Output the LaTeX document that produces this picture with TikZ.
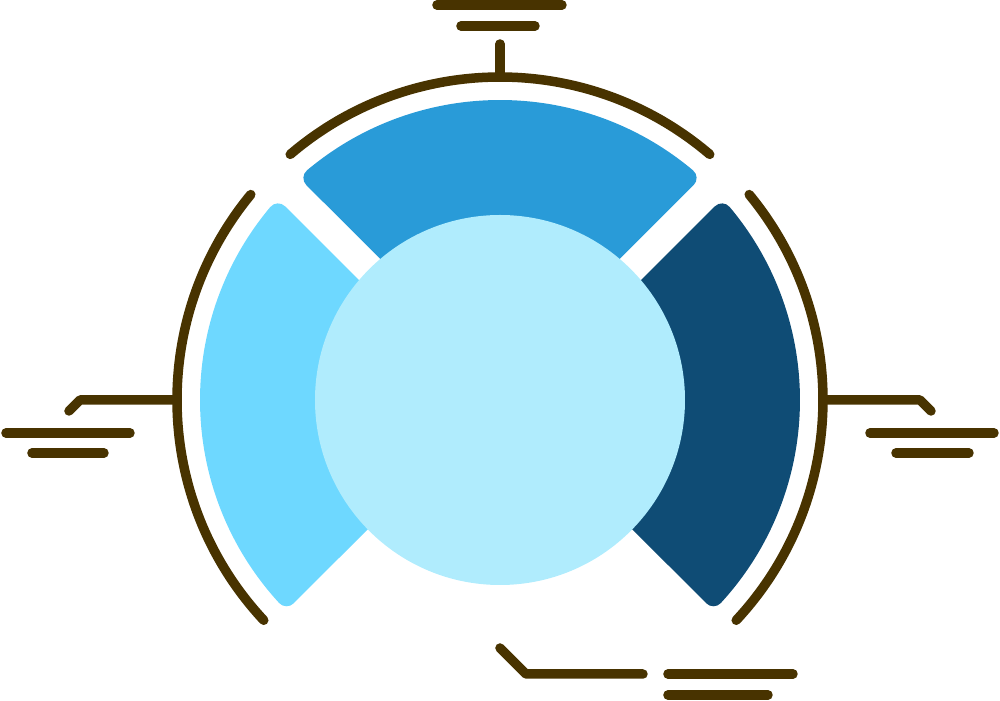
\documentclass[tikz,border=0pt]{standalone}
\usepackage{tikz}
\usepackage{xcolor}
\definecolor{wirebrown}{RGB}{72,51,0}
\definecolor{segtop}{RGB}{41,155,216}
\definecolor{segleft}{RGB}{110,216,255}
\definecolor{segright}{RGB}{15,76,117}
\definecolor{hub}{RGB}{176,236,253}

\begin{document}
\begin{tikzpicture}[x=0.1mm,y=0.1mm]
\tikzstyle{wire}=[draw=wirebrown,line width=0.95mm,line cap=round,line join=round]
\tikzstyle{petal}=[line width=2mm,line join=round]
\useasboundingbox (-500,-301) rectangle (500,400);
\filldraw [petal,fill=segtop,draw=segtop] (0,35.4) -- (49.95:290) arc[start angle=49.95,end angle=130.05,radius=290] -- cycle;
\filldraw [petal,fill=segleft,draw=segleft] (-26.2,-9.2) -- (139.95:290) arc[start angle=139.95,end angle=222.6,radius=290] -- cycle;
\filldraw [petal,fill=segright,draw=segright] (26.2,-9.2) -- (-42.6:290) arc[start angle=-42.6,end angle=40.05,radius=290] -- cycle;
\fill [hub] (0,0) circle[radius=185];
\draw [wire] (49.5:323) arc[start angle=49.5,end angle=130.5,radius=323];
\draw [wire] (140.5:323) arc[start angle=140.5,end angle=223,radius=323];
\draw [wire] (-43:323) arc[start angle=-43,end angle=39.5,radius=323];
\draw [wire] (0,323) -- (0,356);
\draw [wire] (-63,395) -- (62,395);
\draw [wire] (-39,374) -- (35,374);
\draw [wire] (-323,0) -- (-420,0) -- (-431,-11);
\draw [wire] (-494,-33) -- (-370,-33);
\draw [wire] (-468,-53) -- (-396,-53);
\draw [wire] (323,0) -- (420,0) -- (431,-11);
\draw [wire] (370,-33) -- (494,-33);
\draw [wire] (396,-53) -- (469,-53);
\draw [wire] (0,-248) -- (26,-274) -- (143,-274);
\draw [wire] (168,-274) -- (293,-274);
\draw [wire] (168,-295) -- (268,-295);
\end{tikzpicture}
\end{document}
